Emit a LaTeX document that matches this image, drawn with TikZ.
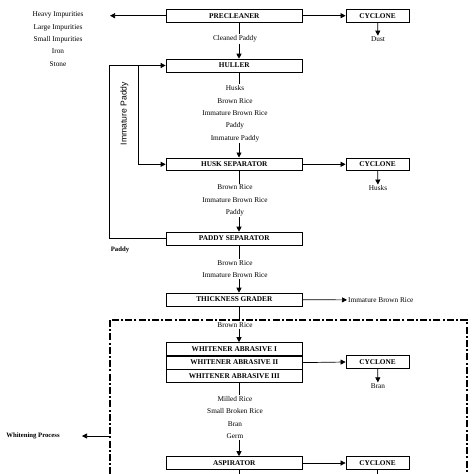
\documentclass[tikz,border=0pt]{standalone}
\usepackage{fontspec}
\setmainfont{Liberation Serif}
\newfontfamily\labsans{Liberation Sans}
\usetikzlibrary{arrows.meta}
\begin{document}
\begin{tikzpicture}[x=1pt,y=-1pt,
 proc/.style={draw, line width=0.8pt, minimum width=136.5pt, minimum height=12.8pt, inner sep=0pt, font=\bfseries\fontsize{7.3pt}{8pt}\selectfont},
 cyc/.style={proc, minimum width=63pt},
 lbl/.style={align=center, inner sep=1pt, font=\fontsize{7.3pt}{12.4pt}\selectfont},
 blbl/.style={lbl, font=\bfseries\fontsize{6.7pt}{8pt}\selectfont},
 conn/.style={line width=0.7pt},
 arr/.style={conn, -{Triangle[length=5pt,width=5pt]}},
 frame/.style={line width=2.2pt, dash pattern=on 7pt off 2.2pt on 2pt off 2.2pt}]
\useasboundingbox (0,0) rectangle (474,474);
\clip (0,0) rectangle (474,474);
\fill[white] (0,0) rectangle (474,474);

% axis and free-end coordinates
\coordinate (ax) at (239,0);
\coordinate (lx) at (109,0);
\coordinate (ix) at (138.3,0);
\coordinate (impe) at (110,15.7);
\coordinate (wpe) at (82,436);
\coordinate (fl) at (110,436);
\coordinate (bot1) at (239,480);
\coordinate (bot2) at (377.5,480);

% nodes
\node[proc] (pre) at (234.3,15.7) {PRECLEANER};
\node[cyc] (cyc1) at (377.5,15.7) {CYCLONE};
\node[lbl] (imp) at (58,39.2) {Heavy Impurities\\Large Impurities\\Small Impurities\\Iron\\Stone};
\node[lbl] (dust) at (378,39.3) {Dust};
\node[lbl] (cp) at (235,39) {Cleaned Paddy};
\node[proc] (hul) at (234.3,65.5) {HULLER};
\node[lbl] (g1) at (235,113.8) {Husks\\Brown Rice\\Immature Brown Rice\\Paddy\\Immature Paddy};
\node[proc] (hsep) at (234.3,164.3) {HUSK SEPARATOR};
\node[cyc] (cyc2) at (377.5,164.3) {CYCLONE};
\node[lbl] (husks) at (378,188.3) {Husks};
\node[lbl] (g2) at (235,200.6) {Brown Rice\\Immature Brown Rice\\Paddy};
\node[proc] (psep) at (234.3,238.5) {PADDY SEPARATOR};
\node[blbl] (pad) at (120,250) {Paddy};
\node[lbl] (g3) at (235,268.9) {Brown Rice\\Immature Brown Rice};
\node[proc] (tg) at (234.3,299.5) {THICKNESS GRADER};
\node[lbl, anchor=west] (ibr) at (347,300) {Immature Brown Rice};
\node[lbl] (br) at (235,325) {Brown Rice};
\node[proc] (w1) at (234.3,349) {WHITENER ABRASIVE I};
\node[proc, anchor=north] (w2) at (w1.south) {WHITENER ABRASIVE II};
\node[proc, anchor=north] (w3) at (w2.south) {WHITENER ABRASIVE III};
\node[cyc] (cyc3) at (377.5,362) {CYCLONE};
\node[lbl] (bran) at (378,386) {Bran};
\node[lbl] (g4) at (235,417.5) {Milled Rice\\Small Broken Rice\\Bran\\Germ};
\node[proc] (asp) at (234.3,463) {ASPIRATOR};
\node[cyc] (cyc4) at (377.5,463) {CYCLONE};
\node[blbl] (wp) at (33,436) {Whitening Process};
\node[font=\labsans\fontsize{8.6pt}{9pt}\selectfont, rotate=90, inner sep=0pt] (ip) at (124.5,113.5) {Immature Paddy};

% frame
\draw[frame] (110,320) rectangle (467,490);

% main line
\draw[conn] (pre.south -| ax) -- (cp.north -| ax);
\draw[arr] (cp.south -| ax) -- (hul.north -| ax);
\draw[conn] (hul.south -| ax) -- (g1.north -| ax);
\draw[arr] (g1.south -| ax) -- (hsep.north -| ax);
\draw[conn] (hsep.south -| ax) -- (g2.north -| ax);
\draw[arr] (g2.south -| ax) -- (psep.north -| ax);
\draw[conn] (psep.south -| ax) -- (g3.north -| ax);
\draw[arr] (g3.south -| ax) -- (tg.north -| ax);
\draw[conn] (tg.south -| ax) -- (br.north -| ax);
\draw[arr] (br.south -| ax) -- (w1.north -| ax);
\draw[conn] (w3.south -| ax) -- (g4.north -| ax);
\draw[arr] (g4.south -| ax) -- (asp.north -| ax);
\draw[conn] (asp.south -| ax) -- (bot1);

% side branches
\draw[arr] (pre.west) -- (impe);
\draw[arr] (pre) -- (cyc1);
\draw[arr] (cyc1) -- (dust);
\draw[arr] (hsep) -- (cyc2);
\draw[arr] (cyc2) -- (husks);
\draw[arr] (tg) -- (ibr);
\draw[arr] (w2.east) -- (cyc3.west);
\draw[arr] (cyc3) -- (bran);
\draw[arr] (asp) -- (cyc4);
\draw[conn] (cyc4.south) -- (bot2);
\draw[arr] (fl) -- (wpe);

% recycle loop
\draw[arr] (psep.west) -- (psep.west -| lx) -- (hul.west -| lx) -- (hul.west);
\draw[arr] (hul.west -| ix) -- (hsep.west -| ix) -- (hsep.west);
\end{tikzpicture}
\end{document}
